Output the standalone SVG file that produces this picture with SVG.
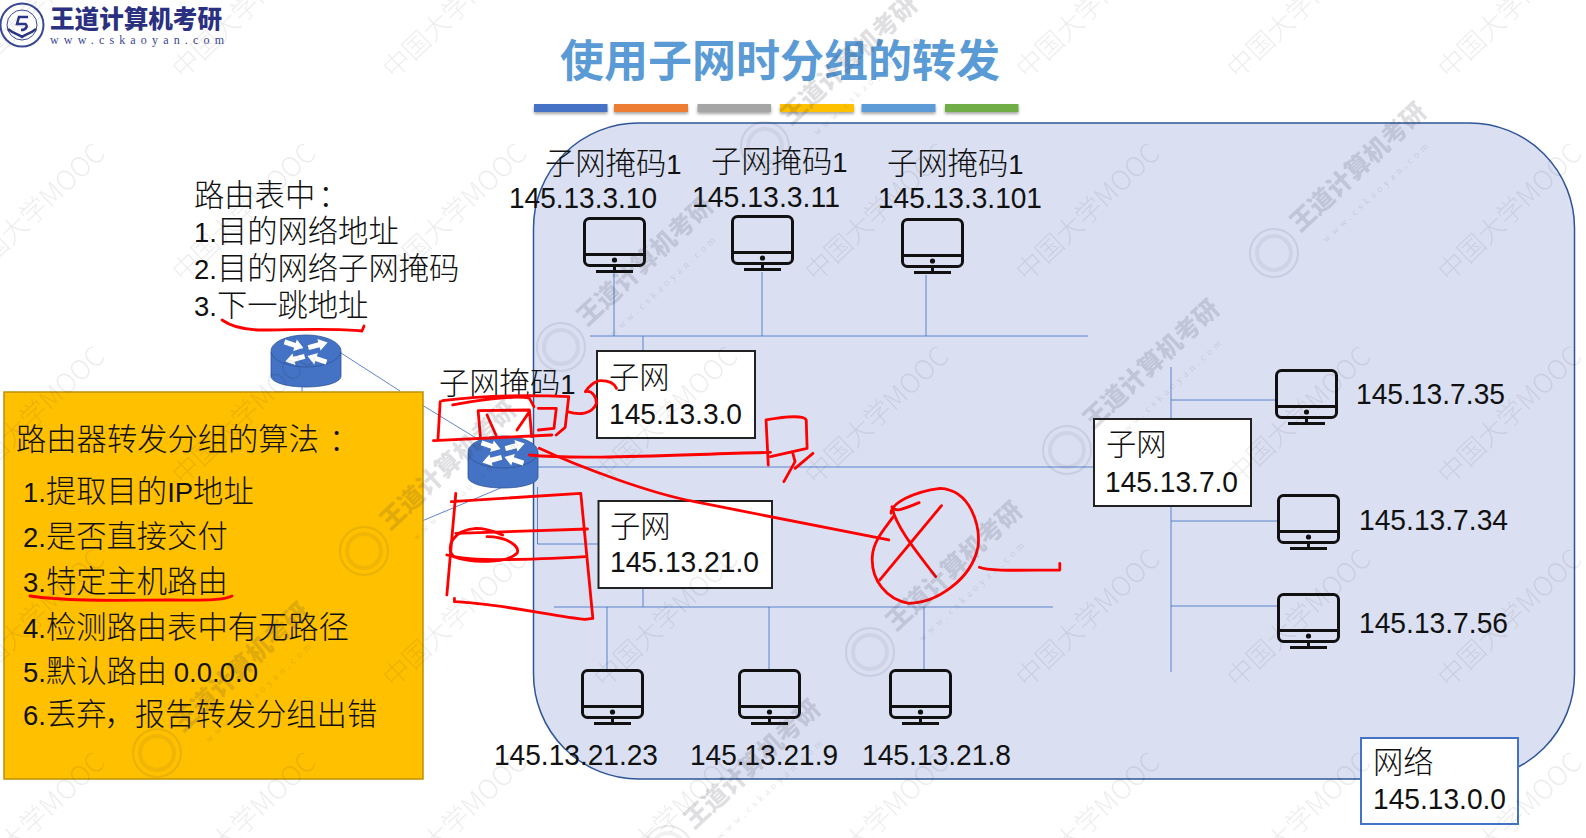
<svg xmlns="http://www.w3.org/2000/svg" width="1586" height="838" viewBox="0 0 1586 838">
<style>
text{font-family:"Liberation Sans","Noto Sans CJK SC",sans-serif;fill:#111}
.cjk{font-family:"Noto Sans CJK SC","Liberation Sans",sans-serif;font-size:30.300px;font-weight:300}
.l{font-family:"Liberation Sans",sans-serif;font-size:27.500px;font-weight:400}
.n{font-size:30px}
.link{stroke:#4472C4;stroke-width:1;fill:none;opacity:.85}
.box{fill:#fff;stroke:#222;stroke-width:2}
.red{fill:none;stroke:#f00;stroke-width:2.800;stroke-linecap:round;stroke-linejoin:round}
.red path{vector-effect:non-scaling-stroke}
.bar{filter:url(#sh)}
.wm{font-family:"Noto Sans CJK SC",sans-serif;font-size:27px;fill:#000;opacity:.07;font-weight:300}
.wb{font-family:"Noto Sans CJK SC",sans-serif;font-size:25px;font-weight:900;fill:#334;opacity:.15}
.ws{font-family:"Liberation Serif",serif;font-size:10px;letter-spacing:4px;fill:#334;opacity:.13}
.mon{fill:none;stroke:#111;stroke-width:3}
</style>
<defs>
<filter id="sh" x="-5%" y="-30%" width="110%" height="190%"><feDropShadow dx="0" dy="2" stdDeviation="1.500" flood-color="#000" flood-opacity=".35"/></filter>
<g id="monitor">
<rect class="mon" x="1.500" y="1.500" width="60" height="47" rx="5"/>
<path class="mon" d="M1.500 37.500H61.500M31.500 49V54M13 54.500H50"/>
<circle cx="31.500" cy="43" r="2.600" fill="#111"/>
</g>
<g id="router">
<path d="M0 17V41C0 47.500 16 52 35 52S70 47.500 70 41V17Z" fill="#4472C4" stroke="#2F5597" stroke-width=".8"/>
<ellipse cx="35" cy="16" rx="35" ry="16" fill="#4472C4" stroke="#2F5597" stroke-width=".8"/>
<g fill="#fff">
<path transform="translate(23 10) rotate(18)" d="M-10-2.500H1V-6L10 0 1 6V2.500H-10Z"/>
<path transform="translate(47 10) rotate(-15)" d="M-10-2.500H1V-6L10 0 1 6V2.500H-10Z"/>
<path transform="translate(24 24) rotate(165)" d="M-10-2.500H1V-6L10 0 1 6V2.500H-10Z"/>
<path transform="translate(46 24) rotate(198)" d="M-10-2.500H1V-6L10 0 1 6V2.500H-10Z"/>
</g>
</g>
<g id="wm1"><text class="wm" transform="rotate(-43.500)">中国大学MOOC</text></g>
<g id="wb1">
<circle r="24" fill="none" stroke="#334" stroke-width="2" opacity=".1"/>
<circle r="17" fill="none" stroke="#334" stroke-width="4" opacity=".07"/>
<text class="wb" transform="translate(26 -20) rotate(-43)">王道计算机考研</text>
<text class="ws" transform="translate(52 -10) rotate(-43)">www.cskaoyan.com</text>
</g>
</defs>

<rect width="1586" height="838" fill="#fff"/>

<g id="logo">
<circle cx="22" cy="25" r="21.500" fill="#fff" stroke="#3A4792" stroke-width="2"/>
<circle cx="22" cy="25" r="15" fill="none" stroke="#3A4792" stroke-width="1"/>
<path d="M28 17H19L17 24H25C28 25 27 30 21 30M8 29C14 34 18 34 22 37C26 34 30 34 36 29" fill="none" stroke="#2B3585" stroke-width="2.500"/>
<text x="50" y="28" font-size="24.500" font-weight="900" style="font-family:'Noto Sans CJK SC',sans-serif;fill:#2B3080" textLength="172" lengthAdjust="spacingAndGlyphs">王道计算机考研</text>
<text x="50" y="44" font-size="12" style="font-family:'Liberation Serif',serif;fill:#3A4792" textLength="174">www.cskaoyan.com</text>
</g>

<g id="title">
<text x="560" y="77" style="font-family:'Noto Sans CJK SC',sans-serif;font-size:44px;font-weight:700;fill:#5B9BD5">使用子网时分组的转发</text>
<rect class="bar" x="534" y="104" width="73.500" height="8" fill="#4472C4"/>
<rect class="bar" x="614" y="104" width="74" height="8" fill="#ED7D31"/>
<rect class="bar" x="697.500" y="104" width="73.500" height="8" fill="#A5A5A5"/>
<rect class="bar" x="780" y="104" width="74" height="8" fill="#FFC000"/>
<rect class="bar" x="861.500" y="104" width="74" height="8" fill="#5B9BD5"/>
<rect class="bar" x="945" y="104" width="73.500" height="8" fill="#70AD47"/>
</g>

<g id="network"><rect x="533.500" y="123" width="1041" height="656" rx="105" ry="105" fill="#DAE0F2" stroke="#2F5597" stroke-width="1.500"/></g>

<g id="connectors">
<path class="link" d="M590 336H1088M614 273V336M762 272V336M926 275V336M643 336V351"/>
<path class="link" d="M538 467H1094M537.500 487V544H598M643 588V607"/>
<path class="link" d="M554 607H1053" stroke-width="1.600"/>
<path class="link" d="M607 607V670M769 607V670M924 607V670"/>
<path class="link" d="M1171 367V672M1171 400H1275M1171 521H1277M1171 606H1277"/>
<path class="link" d="M341 353L400 391M302 387V392M422 405L476 438M422 521L503 487"/>
</g>

<g id="router-a"><use href="#router" x="271" y="335"/></g>
<g id="router-b"><use href="#router" x="468" y="436"/></g>

<g id="routing-note">
<text class="cjk" x="194" y="206">路由表中<tspan dx="3">：</tspan></text>
<text class="cjk" x="194" y="242"><tspan class="l">1.</tspan>目的网络地址</text>
<text class="cjk" x="194" y="279"><tspan class="l">2.</tspan>目的网络子网掩码</text>
<text class="cjk" x="194" y="316"><tspan class="l">3.</tspan>下一跳地址</text>
</g>

<g id="algorithm">
<rect x="4" y="392" width="419" height="387" fill="#FFC000" stroke="#BF9000" stroke-width="1.500"/>
<text class="cjk" x="16" y="450">路由器转发分组的算法<tspan dx="10">：</tspan></text>
<text class="cjk" x="23" y="502"><tspan class="l">1.</tspan>提取目的<tspan class="l">IP</tspan>地址</text>
<text class="cjk" x="23" y="547"><tspan class="l">2.</tspan>是否直接交付</text>
<text class="cjk" x="23" y="592"><tspan class="l">3.</tspan>特定主机路由</text>
<text class="cjk" x="23" y="638"><tspan class="l">4.</tspan>检测路由表中有无路径</text>
<text class="cjk" x="23" y="682"><tspan class="l">5.</tspan>默认路由 <tspan class="l">0.0.0.0</tspan></text>
<text class="cjk" x="23" y="725"><tspan class="l">6.</tspan>丢弃<tspan dx="-2">，</tspan>报告转发分组出错</text>
</g>

<g id="hosts-a">
<text class="cjk" x="545" y="174">子网掩码<tspan class="l">1</tspan></text>
<text class="n" x="509" y="208" textLength="148" lengthAdjust="spacingAndGlyphs">145.13.3.10</text>
<use href="#monitor" x="583" y="217"/>
<text class="cjk" x="711" y="172">子网掩码<tspan class="l">1</tspan></text>
<text class="n" x="692" y="207" textLength="148" lengthAdjust="spacingAndGlyphs">145.13.3.11</text>
<use href="#monitor" x="731" y="215"/>
<text class="cjk" x="887" y="174">子网掩码<tspan class="l">1</tspan></text>
<text class="n" x="878" y="208" textLength="164" lengthAdjust="spacingAndGlyphs">145.13.3.101</text>
<use href="#monitor" x="901" y="218"/>
</g>

<g id="mask-router"><text class="cjk" x="439" y="394">子网掩码<tspan class="l">1</tspan></text></g>

<g id="subnet-3">
<rect class="box" x="597" y="351" width="158" height="87"/>
<text class="cjk" x="609" y="388">子网</text>
<text class="n" x="609" y="424" textLength="133" lengthAdjust="spacingAndGlyphs">145.13.3.0</text>
</g>
<g id="subnet-21">
<rect class="box" x="598.500" y="501" width="173.500" height="87"/>
<text class="cjk" x="610" y="537">子网</text>
<text class="n" x="610" y="572" textLength="149" lengthAdjust="spacingAndGlyphs">145.13.21.0</text>
</g>
<g id="subnet-7">
<rect class="box" x="1094" y="419" width="157" height="87"/>
<text class="cjk" x="1106" y="455">子网</text>
<text class="n" x="1105" y="492" textLength="133" lengthAdjust="spacingAndGlyphs">145.13.7.0</text>
</g>

<g id="hosts-21">
<use href="#monitor" x="581" y="669"/>
<use href="#monitor" x="738" y="669"/>
<use href="#monitor" x="889" y="669"/>
<text class="n" x="494" y="765" textLength="164" lengthAdjust="spacingAndGlyphs">145.13.21.23</text>
<text class="n" x="690" y="765" textLength="148" lengthAdjust="spacingAndGlyphs">145.13.21.9</text>
<text class="n" x="862" y="765" textLength="149" lengthAdjust="spacingAndGlyphs">145.13.21.8</text>
</g>

<g id="hosts-7">
<use href="#monitor" x="1275" y="369"/>
<use href="#monitor" x="1277" y="494"/>
<use href="#monitor" x="1277" y="593"/>
<text class="n" x="1356" y="404" textLength="149" lengthAdjust="spacingAndGlyphs">145.13.7.35</text>
<text class="n" x="1359" y="530" textLength="149" lengthAdjust="spacingAndGlyphs">145.13.7.34</text>
<text class="n" x="1359" y="633" textLength="149" lengthAdjust="spacingAndGlyphs">145.13.7.56</text>
</g>

<g id="network-label">
<rect x="1361" y="738" width="157" height="86" fill="#fff" stroke="#4472C4" stroke-width="2"/>
<text class="cjk" x="1373" y="773">网络</text>
<text class="n" x="1373" y="809" textLength="133" lengthAdjust="spacingAndGlyphs">145.13.0.0</text>
</g>

<g id="ink" class="red">
<path d="M222 320C232 327 245 330 262 330S340 328 362 331L364 326"/>
<path d="M30 596C70 602 130 600 170 600C200 600 222 601 232 596"/>
<g transform="translate(400 340) scale(.4464 .3333)">
<path d="M118 195C170 180 260 165 290 175L300 200M90 185L85 300M75 302L340 285M95 182C200 165 300 165 378 170L370 262 350 285"/>
<path d="M175 212L290 210 295 290M175 212L180 290M195 225L215 285M310 205H350L345 265 310 270M262 270L290 215"/>
<path d="M375 215C400 225 430 225 440 190C440 170 430 150 415 155C420 145 435 122 450 122C470 122 480 130 485 145"/>
<path d="M290 345C400 360 600 345 830 337"/>
<path d="M825 375L820 240C860 230 905 225 910 240L912 325 830 350M880 340L885 365 860 425M925 340L885 385"/>
<path d="M312 325C400 380 560 460 660 485L1095 600"/>
<path d="M1100 520C1100 490 1150 455 1210 445C1280 450 1300 560 1295 620C1280 720 1200 790 1140 790C1090 780 1055 720 1058 650C1060 600 1090 560 1105 530"/>
<path d="M1163 488C1130 505 1110 520 1102 500C1110 560 1160 640 1200 710M1213 497L1075 720"/>
<path d="M1298 682C1320 695 1400 690 1478 690V670"/>
<path d="M115 485L405 460 432 835 415 838C350 830 220 790 122 785V775M125 460L105 765"/>
<path d="M125 580L420 567M105 645C160 665 280 660 415 650"/>
<path d="M195 590C240 590 270 620 262 640C240 670 160 670 120 650C100 620 120 570 170 565C200 565 220 580 230 585"/>
</g>
</g>

<g id="watermarks">
<use href="#wm1" x="-28" y="80"/><use href="#wm1" x="183" y="80"/><use href="#wm1" x="394" y="80"/><use href="#wm1" x="1027" y="80"/><use href="#wm1" x="1238" y="80"/><use href="#wm1" x="1449" y="80"/>
<use href="#wm1" x="-28" y="283"/><use href="#wm1" x="183" y="283"/><use href="#wm1" x="394" y="283"/><use href="#wm1" x="816" y="283"/><use href="#wm1" x="1027" y="283"/><use href="#wm1" x="1449" y="283"/>
<use href="#wm1" x="-28" y="486"/><use href="#wm1" x="183" y="486"/><use href="#wm1" x="605" y="486"/><use href="#wm1" x="816" y="486"/><use href="#wm1" x="1238" y="486"/><use href="#wm1" x="1449" y="486"/>
<use href="#wm1" x="-28" y="689"/><use href="#wm1" x="394" y="689"/><use href="#wm1" x="605" y="689"/><use href="#wm1" x="1027" y="689"/><use href="#wm1" x="1238" y="689"/><use href="#wm1" x="1449" y="689"/>
<use href="#wm1" x="-28" y="892"/><use href="#wm1" x="183" y="892"/><use href="#wm1" x="394" y="892"/><use href="#wm1" x="605" y="892"/><use href="#wm1" x="816" y="892"/><use href="#wm1" x="1027" y="892"/><use href="#wm1" x="1238" y="892"/><use href="#wm1" x="1449" y="892"/>
<use href="#wb1" x="1274" y="253"/><use href="#wb1" x="1067" y="450"/><use href="#wb1" x="870" y="652"/><use href="#wb1" x="668" y="850"/>
<use href="#wb1" x="765" y="146"/><use href="#wb1" x="561" y="347"/><use href="#wb1" x="364" y="551"/><use href="#wb1" x="157" y="753"/>
</g>
</svg>
